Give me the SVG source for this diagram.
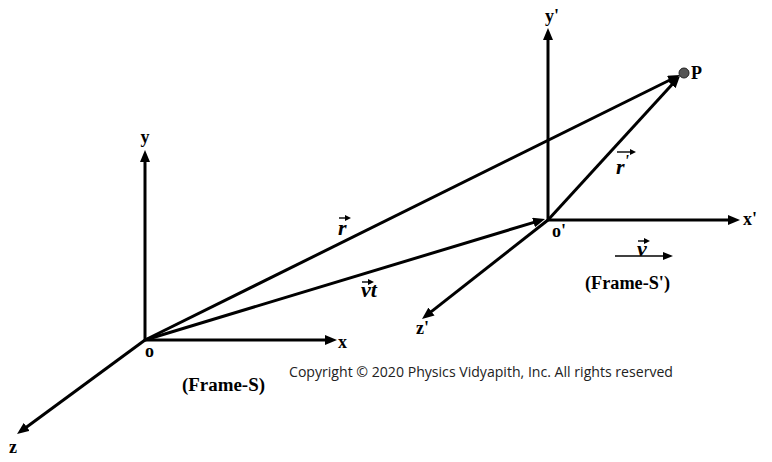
<svg xmlns="http://www.w3.org/2000/svg" width="772" height="462" viewBox="0 0 772 462">
<style>
.ax{stroke:#000;stroke-width:3;fill:none}
.lb{font-family:"Liberation Serif",serif;font-weight:bold;font-size:18px;fill:#000}
.vec{font-family:"Liberation Serif",serif;font-weight:bold;font-style:italic;font-size:22px;fill:#000}
.ov{stroke:#000;stroke-width:1.4;fill:none}
.cp{font-family:"Open Sans",sans-serif;font-size:14px;fill:#222}
</style>
<defs>
<marker id="ah" viewBox="0 0 12 10" refX="3" refY="5" markerWidth="12" markerHeight="10" markerUnits="userSpaceOnUse" orient="auto">
<path d="M0,0 L12,5 L0,10 z" fill="#000"/>
</marker>
<marker id="ahs" viewBox="0 0 10 8" refX="2" refY="4" markerWidth="10" markerHeight="8" markerUnits="userSpaceOnUse" orient="auto">
<path d="M0,0 L10,4 L0,8 z" fill="#000"/>
</marker>
<marker id="aht" viewBox="0 0 6 6" refX="1" refY="3" markerWidth="6" markerHeight="6" markerUnits="userSpaceOnUse" orient="auto">
<path d="M0,0 L6,3 L0,6 z" fill="#000"/>
</marker>
</defs>
<rect width="772" height="462" fill="#fff"/>
<g id="connectors">
<line class="ax" x1="145" y1="340" x2="145" y2="159" marker-end="url(#ah)"/>
<line class="ax" x1="145" y1="340" x2="328" y2="340" marker-end="url(#ah)"/>
<line class="ax" x1="145" y1="340" x2="24.3" y2="428.7" marker-end="url(#ah)"/>
<line class="ax" x1="548" y1="220" x2="548" y2="37" marker-end="url(#ah)"/>
<line class="ax" x1="548" y1="220" x2="731" y2="220" marker-end="url(#ah)"/>
<line class="ax" x1="548" y1="220" x2="429.1" y2="313.4" marker-end="url(#ah)"/>
<line class="ax" x1="145" y1="340" x2="671.9" y2="79" marker-end="url(#ah)"/>
<line class="ax" x1="145" y1="340" x2="536.4" y2="221.6" marker-end="url(#ah)"/>
<line class="ax" x1="548" y1="220" x2="673.9" y2="82.6" marker-end="url(#ah)"/>
<line x1="615" y1="256" x2="665" y2="256" stroke="#000" stroke-width="1.5" marker-end="url(#ahs)"/>
</g>
<g id="frame-s">
<text class="lb" x="145" y="143" text-anchor="middle">y</text>
<text class="lb" x="338" y="348">x</text>
<text class="lb" x="9" y="453">z</text>
<text class="lb" x="145" y="357" font-size="15">o</text>
<text class="lb" x="182" y="391" textLength="83" lengthAdjust="spacingAndGlyphs">(Frame-S)</text>
</g>
<g id="frame-s-prime">
<text class="lb" x="552" y="22" text-anchor="middle">y'</text>
<text class="lb" x="743" y="225">x'</text>
<text class="lb" x="416" y="334">z'</text>
<text class="lb" x="552" y="237" font-size="15">o'</text>
<text class="lb" x="585" y="289" textLength="85" lengthAdjust="spacingAndGlyphs">(Frame-S')</text>
</g>
<g id="point-p">
<circle cx="684" cy="73" r="5" fill="#555" stroke="#222" stroke-width="1"/>
<text class="lb" x="691" y="79">P</text>
</g>
<g id="label-r">
<text class="vec" x="338" y="235">r</text>
<line class="ov" x1="339" y1="218" x2="346" y2="218" marker-end="url(#aht)"/>
</g>
<g id="label-vt">
<text class="vec" x="361" y="297">vt</text>
<line class="ov" x1="362" y1="282" x2="369" y2="282" marker-end="url(#aht)"/>
</g>
<g id="label-r-prime">
<text class="vec" x="616" y="174">r<tspan font-size="16" dy="-8">ʹ</tspan></text>
<line class="ov" x1="617" y1="152" x2="631" y2="152" marker-end="url(#aht)"/>
</g>
<g id="label-v">
<text class="vec" x="637" y="256">v</text>
<line class="ov" x1="638" y1="241" x2="645" y2="241" marker-end="url(#aht)"/>
</g>
<text class="cp" x="289" y="377" textLength="384" lengthAdjust="spacingAndGlyphs">Copyright © 2020 Physics Vidyapith, Inc. All rights reserved</text>
</svg>
